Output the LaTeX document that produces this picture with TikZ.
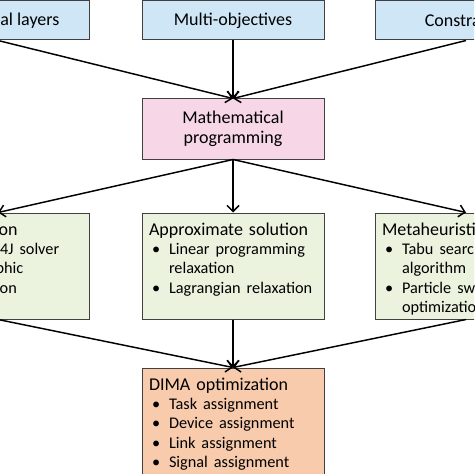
\documentclass[tikz,border=0pt]{standalone}
\usepackage{fontspec}
\setmainfont{Carlito}
\usetikzlibrary{arrows.meta}
\definecolor{layerblue}{RGB}{207,230,247}
\definecolor{mathpink}{RGB}{246,214,231}
\definecolor{solgreen}{RGB}{235,242,222}
\definecolor{dimaorange}{RGB}{248,203,173}
\definecolor{boxline}{RGB}{64,64,64}
\newcommand{\itemfont}{\fontsize{12.2pt}{14.6pt}\selectfont}
\newcommand{\bul}[1]{\hspace*{2.25pt}\makebox[12.75pt][l]{\itemfont\textbullet}\mbox{\itemfont #1}}
\newcommand{\cont}[1]{\hspace*{15pt}\mbox{\itemfont #1}}
\begin{document}
\begin{tikzpicture}[x=0.75pt, y=-0.75pt,
    box/.style={rectangle, draw=boxline, line width=0.75pt, minimum width=136.5pt,
        align=center, font=\fontsize{13.5pt}{14.6pt}\selectfont},
    listbox/.style={box, align=left, text width=126pt, inner xsep=5.25pt, inner ysep=0pt,
        text height=16.5pt, text depth=63pt},
    arr/.style={-{Straight Barb[length=4.5pt, width=9pt]}, line width=1.1pt}
]
    \useasboundingbox (0,0) rectangle (474,474);
    \clip (0,0) rectangle (474,474);

    % inputs
    \node[box, fill=layerblue, minimum height=29.25pt] (layers) at (-2,20.5) {Functional layers};
    \node[box, fill=layerblue, minimum height=29.25pt] (objectives) at (233,20.5) {Multi-objectives};
    \node[box, fill=layerblue, minimum height=29.25pt] (constraints) at (466,20.5) {Constraints};

    \node[box, fill=mathpink, minimum height=45pt] (math) at (233,129) {Mathematical\\programming};

    % solution methods
    \node[listbox, fill=solgreen] (exact) at (-2,266) {\mbox{Exact solution}\\
        \bul{Using SAT4J solver}\\
        \bul{Lexicographic}\\
        \cont{optimization}};
    \node[listbox, fill=solgreen] (approx) at (233,266) {\mbox{Approximate solution}\\
        \bul{Linear programming}\\
        \cont{relaxation}\\
        \bul{Lagrangian relaxation}};
    \node[listbox, fill=solgreen] (meta) at (466,266) {\mbox{Metaheuristics}\\
        \bul{Tabu search}\\
        \cont{algorithm}\\
        \bul{Particle swarm}\\
        \cont{optimization}};

    \node[listbox, fill=dimaorange, text depth=67.5pt] (dima) at (233,424) {\mbox{DIMA optimization}\\
        \bul{Task assignment}\\
        \bul{Device assignment}\\
        \bul{Link assignment}\\
        \bul{Signal assignment}};

    \draw[arr] (layers.south) -- (math.north);
    \draw[arr] (objectives.south) -- (math.north);
    \draw[arr] (constraints.south) -- (math.north);

    \draw[arr] (math.south) -- (exact.north);
    \draw[arr] (math.south) -- (approx.north);
    \draw[arr] (math.south) -- (meta.north);

    \draw[arr] (exact.south) -- (dima.north);
    \draw[arr] (approx.south) -- (dima.north);
    \draw[arr] (meta.south) -- (dima.north);
\end{tikzpicture}
\end{document}
